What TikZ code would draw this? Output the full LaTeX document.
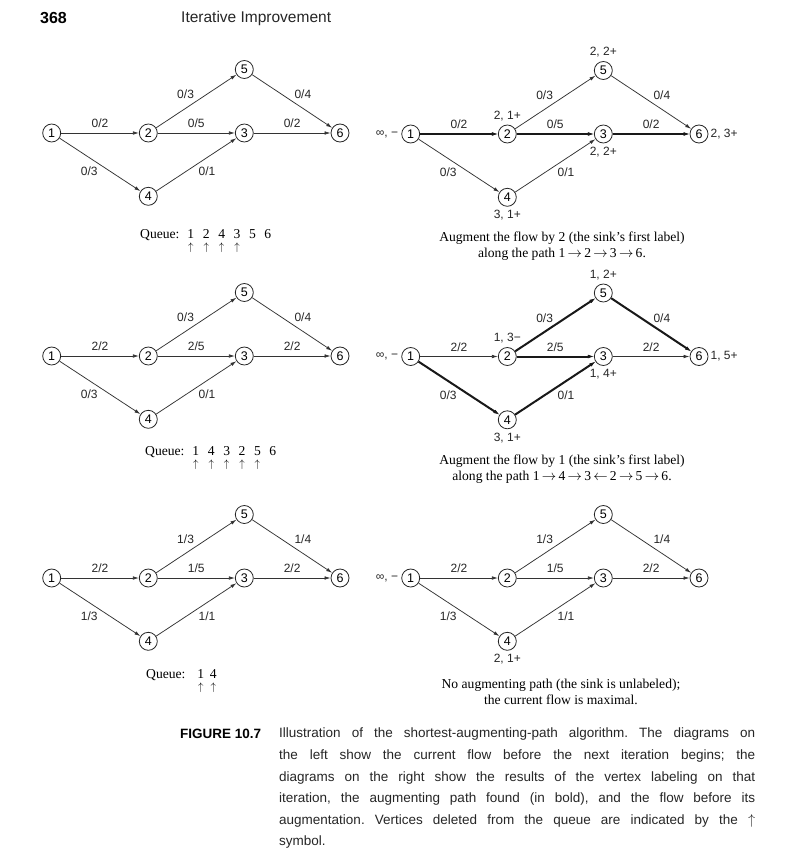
\documentclass[tikz,border=0pt]{standalone}
\usepackage{fontspec}
\setmainfont{Liberation Serif}
\setsansfont{Liberation Sans}
\usetikzlibrary{arrows.meta, positioning}
\frenchspacing
\newcommand{\qdel}{{\fontsize{10.5}{10.5}\selectfont$\uparrow$}}

\begin{document}
\begin{tikzpicture}[x=1pt, y=-1pt,
    vertex/.style={circle, draw=black!85, line width=0.8pt, fill=white, minimum size=18pt, inner sep=0pt, font=\sffamily\fontsize{12.5}{12.5}\selectfont},
    arc/.style={draw=black!80, line width=0.75pt, -{Latex[length=6pt,width=3.6pt]}},
    augpath/.style={arc, draw=black!90, line width=2pt},
    flow/.style={font=\sffamily\fontsize{12}{12}\selectfont, text=black!85, inner sep=2pt},
    vlabel/.style={font=\sffamily\fontsize{12}{12}\selectfont, text=black!85, inner sep=1pt},
    serif/.style={font=\fontsize{13.6}{16.2}\selectfont, inner sep=0pt},
    queue/.style={serif, anchor=base west},
    captxt/.style={font=\sffamily\fontsize{13.5}{21.6}\selectfont, text=black!85, inner sep=0pt}]
  \fill[white] (0,0) rectangle (784,853);
  \useasboundingbox (0,0) rectangle (784,853);

  \node[font=\sffamily\bfseries\fontsize{16}{16}\selectfont, anchor=west, inner sep=0pt] (pageno) at (40,18) {368};
  \node[captxt, font=\sffamily\fontsize{15.5}{15.5}\selectfont, anchor=west] (runhead) at (181,18) {Iterative Improvement};

  \foreach \g/\gx/\gy/\fa/\fb/\fc/\fd/\fe/\ff/\fh in {a/51.7/133/0/0/0/0/0/0/0, b/410.7/134/0/0/0/0/0/0/0,
      c/51.7/356/2/2/2/0/0/0/0, d/410.7/356.5/2/2/2/0/0/0/0,
      e/51.7/578/2/1/2/1/1/1/1, f/410.7/578/2/1/2/1/1/1/1} {
    \begin{scope}[shift={(\gx,\gy)}]
      \node[vertex] (\g1) at (0,0) {1};
      \node[vertex] (\g2) at (96.6,0) {2};
      \node[vertex] (\g3) at (192.6,0) {3};
      \node[vertex] (\g4) at (96.6,63.3) {4};
      \node[vertex] (\g5) at (192.6,-63.5) {5};
      \node[vertex] (\g6) at (288.3,0) {6};
    \end{scope}
    \draw[arc] (\g1) -- node[flow, above=3pt] {\fa/2} (\g2);
    \draw[arc] (\g2) -- node[flow, above=3pt] {\fb/5} (\g3);
    \draw[arc] (\g3) -- node[flow, above=3pt] {\fc/2} (\g6);
    \draw[arc] (\g2) -- node[flow, above left] {\fd/3} (\g5);
    \draw[arc] (\g5) -- node[flow, above right] {\fe/4} (\g6);
    \draw[arc] (\g1) -- node[flow, below left] {\ff/3} (\g4);
    \draw[arc] (\g4) -- node[flow, below right] {\fh/1} (\g3);
  }

  % augmenting paths
  \draw[augpath] (b1) -- (b2);
  \draw[augpath] (b2) -- (b3);
  \draw[augpath] (b3) -- (b6);
  \draw[augpath] (d1) -- (d4);
  \draw[augpath] (d4) -- (d3);
  \draw[augpath] (d2) -- (d3);
  \draw[augpath] (d2) -- (d5);
  \draw[augpath] (d5) -- (d6);

  % vertex labels
  \node[vlabel, left=2pt of b1] (b1l) {∞, −};
  \node[vlabel, above=2.5pt of b2] (b2l) {2, 1+};
  \node[vlabel, above=2.5pt of b5] (b5l) {2, 2+};
  \node[vlabel, below=2.5pt of b3] (b3l) {2, 2+};
  \node[vlabel, right=1pt of b6] (b6l) {2, 3+};
  \node[vlabel, below=2.5pt of b4] (b4l) {3, 1+};
  \node[vlabel, left=2pt of d1] (d1l) {∞, −};
  \node[vlabel, above=2.5pt of d2] (d2l) {1, 3−};
  \node[vlabel, above=2.5pt of d5] (d5l) {1, 2+};
  \node[vlabel, below=2.5pt of d3] (d3l) {1, 4+};
  \node[vlabel, right=1pt of d6] (d6l) {1, 5+};
  \node[vlabel, below=2.5pt of d4] (d4l) {3, 1+};
  \node[vlabel, left=2pt of f1] (f1l) {∞, −};
  \node[vlabel, below=2.5pt of f4] (f4l) {2, 1+};

  % queues
  \node[queue] (qa) at (140,238) {\setlength{\tabcolsep}{4.3pt}%
    \begin{tabular}[t]{@{}l@{\hspace{8pt}}*{6}{c}@{}}
      Queue: & 1 & 2 & 4 & 3 & 5 & 6\\[-3.5pt]
             & \qdel & \qdel & \qdel & \qdel & &
    \end{tabular}};
  \node[queue] (qc) at (145,455) {\setlength{\tabcolsep}{4.3pt}%
    \begin{tabular}[t]{@{}l@{\hspace{8pt}}*{6}{c}@{}}
      Queue: & 1 & 4 & 3 & 2 & 5 & 6\\[-3.5pt]
             & \qdel & \qdel & \qdel & \qdel & \qdel &
    \end{tabular}};
  \node[queue] (qe) at (146,678) {\setlength{\tabcolsep}{2.8pt}%
    \begin{tabular}[t]{@{}l@{\hspace{12pt}}*{2}{c}@{}}
      Queue: & 1 & 4\\[-3.5pt]
             & \qdel & \qdel
    \end{tabular}};

  % results of labeling
  \node[serif, align=center] (augb) at (562,246) {Augment the flow by 2 (the sink’s first label)\\along the path 1\,$\to$\,2\,$\to$\,3\,$\to$\,6.};
  \node[serif, align=center] (augd) at (562,469.5) {Augment the flow by 1 (the sink’s first label)\\along the path 1\,$\to$\,4\,$\to$\,3\,$\leftarrow$\,2\,$\to$\,5\,$\to$\,6.};
  \node[serif, align=center] (augf) at (561,691.5) {No augmenting path (the sink is unlabeled);\\the current flow is maximal.};

  % caption
  \node[captxt, font=\sffamily\bfseries\fontsize{13.5}{21.6}\selectfont, text=black, anchor=base west] (fignum) at (180,738) {FIGURE 10.7};
  \node[captxt, text width=476pt, align=justify, anchor=north west] (figtext) at (279,728) {Illustration of the shortest-augmenting-path algorithm. The diagrams on\linebreak
    the left show the current flow before the next iteration begins; the\linebreak
    diagrams on the right show the results of the vertex labeling on that\linebreak
    iteration, the augmenting path found (in bold), and the flow before its\linebreak
    augmentation. Vertices deleted from the queue are indicated by the $\uparrow$\linebreak
    symbol.};
\end{tikzpicture}
\end{document}
